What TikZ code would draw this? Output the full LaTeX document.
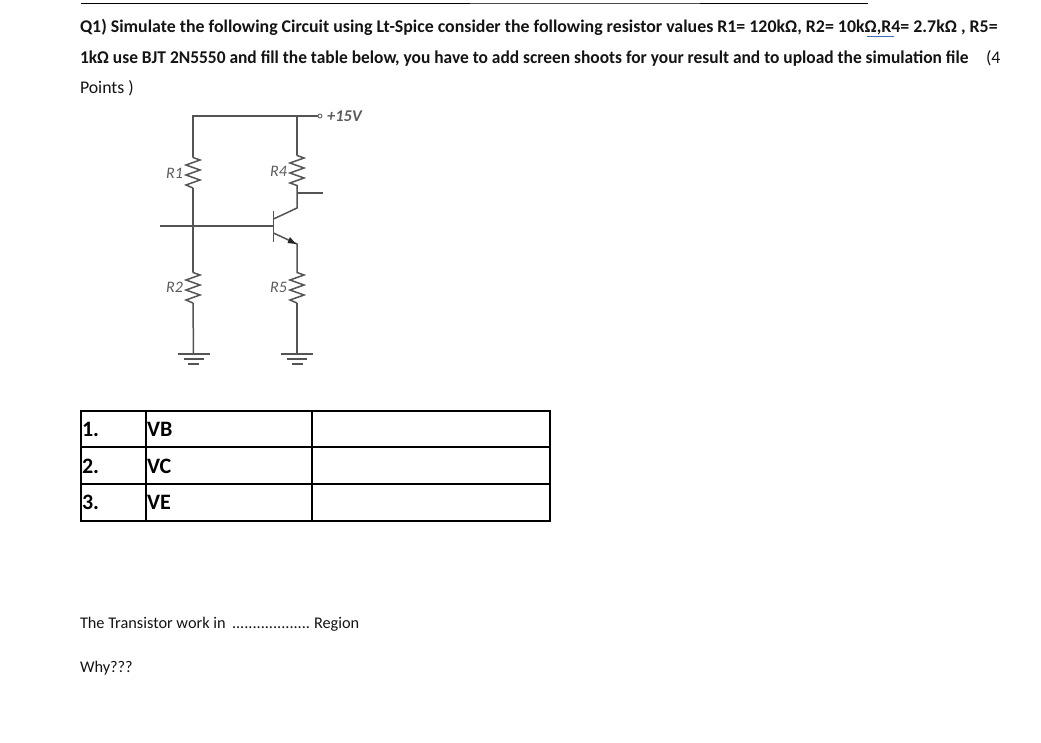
\documentclass[tikz,border=0pt]{standalone}
\usepackage{fontspec}
\setmainfont{Carlito}
\usetikzlibrary{decorations.pathmorphing}
\definecolor{wire}{gray}{0.33}
\definecolor{lab}{gray}{0.36}
\definecolor{body}{gray}{0.08}
\definecolor{link}{RGB}{60,110,200}
\tikzset{
  txt/.style={anchor=base west,inner sep=0pt,outer sep=0pt,text=body,font=\fontsize{17.85}{20}\selectfont\bfseries},
  plain/.style={anchor=base west,inner sep=0pt,outer sep=0pt,text=body,font=\fontsize{16.3}{18}\selectfont},
  cell/.style={anchor=base west,inner sep=0pt,outer sep=0pt,text=black,font=\fontsize{22}{24}\selectfont\bfseries},
  clab/.style={anchor=base east,inner sep=0pt,outer sep=0pt,text=lab,font=\fontsize{16}{18}\selectfont\itshape},
  wireline/.style={draw=wire,line width=1.5pt},
  groundline/.style={draw=wire,line width=1.3pt},
  resist/.style={wireline,line join=miter,decorate,decoration={zigzag,segment length=10pt,amplitude=7pt,pre length=0.5pt,post length=0.5pt}},
  gridline/.style={draw=black,line width=2pt}
}
\begin{document}
\begin{tikzpicture}[x=1pt,y=-1pt]
\useasboundingbox[fill=white] (0,0) rectangle (1041,742);
% top rule and underline
\coordinate (ruleL) at (81,3); \coordinate (ruleM) at (470,3); \coordinate (ruleN) at (700,3); \coordinate (ruleR) at (868,3);
\draw[black,line width=0.8pt] (ruleL) -- (ruleM);
\draw[black!70,line width=1pt] (ruleM) -- (ruleN);
\draw[black,line width=0.8pt] (ruleN) -- (ruleR);
% text
\node[txt] (l1) at (80,32) {Q1) Simulate the following Circuit using Lt-Spice consider the following resistor values R1= 120kΩ, R2= 10kΩ,R4= 2.7kΩ , R5=};
\coordinate (ulL) at (867,36); \coordinate (ulR) at (894,36);
\draw[link,line width=0.9pt] (ulL) -- (ulR);
\node[txt,font=\fontsize{18}{20}\selectfont\bfseries,xscale=0.967] (l2) at (80,63) {1kΩ use BJT 2N5550 and fill the table below, you have to add screen shoots for your result and to upload the simulation file};
\node[plain,font=\fontsize{17.8}{18}\selectfont] (l2b) at (986,63) {(4};
\node[plain,font=\fontsize{17.8}{18}\selectfont] (l3) at (80,93) {Points )};
% circuit
\coordinate (tl) at (193,116);
\coordinate (tr) at (297,116);
\node[circle,draw=wire,line width=0.8pt,fill=white,minimum size=4pt,inner sep=0pt] (vcc) at (320,116) {};
\node[anchor=base west,inner sep=0pt,text=lab,font=\fontsize{16.4}{18}\selectfont\itshape\bfseries] (vcclab) at (327,121) {+15V};
\coordinate (r1t) at (193,157); \coordinate (r1b) at (193,188);
\coordinate (r2t) at (193,272); \coordinate (r2b) at (193,303);
\coordinate (r4t) at (297,155); \coordinate (r4b) at (297,187);
\coordinate (r5t) at (297,272); \coordinate (r5b) at (297,303);
\coordinate (bl) at (160,226);
\coordinate (bb) at (273.5,226);
\coordinate (barT) at (273.5,211);
\coordinate (barB) at (273.5,242);
\coordinate (tap) at (297,193);
\coordinate (tapR) at (323,193);
\coordinate (cbend) at (297,208);
\coordinate (cb) at (273.5,219);
\coordinate (eb) at (273.5,233);
\coordinate (ebend) at (297,244);
\coordinate (g1) at (193.5,354);
\coordinate (g2) at (297,354);
\draw[wireline] (vcc) -- (tl) -- (r1t);
\draw[wireline] (tr) -- (r4t);
\draw[resist] (r1t) -- (r1b);
\draw[resist] (r4t) -- (r4b);
\draw[wireline] (r1b) -- (r2t);
\draw[resist] (r2t) -- (r2b);
\draw[wireline] (r2b) -- (g1);
\draw[wireline] (bl) -- (bb);
\draw[wireline] (barT) -- (barB);
\draw[wireline] (r4b) -- (cbend) -- (cb);
\draw[wireline] (tap) -- (tapR);
\draw[wireline] (eb) -- (ebend) -- (r5t);
\fill[black!85] (296,244) -- (290,237) -- (287.5,243) -- cycle;
\draw[resist] (r5t) -- (r5b);
\draw[wireline] (r5b) -- (g2);
\foreach \g in {g1,g2}{
  \draw[groundline] ([xshift=-16pt]\g) -- ([xshift=16pt]\g);
  \draw[groundline] ([xshift=-10pt,yshift=-5pt]\g) -- ([xshift=10pt,yshift=-5pt]\g);
  \draw[groundline] ([xshift=-5.5pt,yshift=-10pt]\g) -- ([xshift=5.5pt,yshift=-10pt]\g);
}
\node[clab] (lr1) at (183,178) {R1};
\node[clab] (lr4) at (287,176) {R4};
\node[clab] (lr2) at (183,292) {R2};
\node[clab] (lr5) at (287,292) {R5};
% table
\draw[gridline] (81,411) rectangle (550,520.5);
\draw[gridline] (81,447) -- (550,447);
\draw[gridline] (81,484) -- (550,484);
\draw[gridline] (146,411) -- (146,520.5);
\draw[gridline] (312,411) -- (312,520.5);
\node[cell] (n1) at (82,436) {1.};
\node[cell] (n2) at (82,473) {2.};
\node[cell] (n3) at (82,509.5) {3.};
\node[cell] (vb) at (147,436) {VB};
\node[cell] (vc) at (147,473) {VC};
\node[cell] (ve) at (147,509.5) {VE};
% bottom text
\node[plain] (q) at (80,628) {The Transistor work in};
\node[plain] (dots) at (232,628) {...................};
\node[plain] (reg) at (314,628) {Region};
\node[plain] (why) at (80,672) {Why???};
\end{tikzpicture}
\end{document}
